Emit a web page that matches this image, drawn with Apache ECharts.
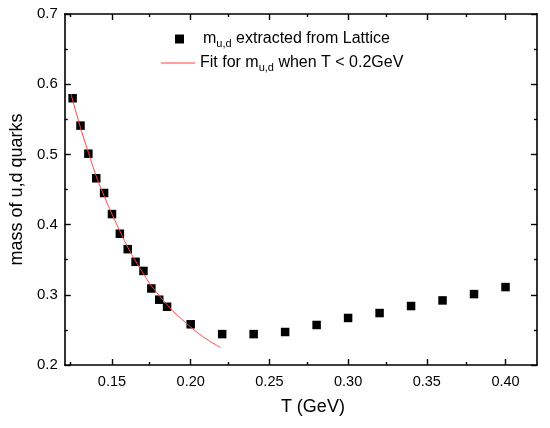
<!DOCTYPE html>
<html>
<head>
<meta charset="utf-8">
<script src="https://cdn.jsdelivr.net/npm/echarts@6/dist/echarts.min.js"></script>
<style>
html,body{margin:0;padding:0;background:#fff;}
#main{width:550px;height:428px;}
</style>
</head>
<body>
<div id="main"></div>
<script>
const T_lattice = [0.125,0.130,0.135,0.140,0.145,0.150,0.155,0.160,0.165,0.170,0.175,0.180,0.185,0.200,0.220,0.240,0.260,0.280,0.300,0.320,0.340,0.360,0.380,0.400];
const m_lattice = [0.580,0.541,0.501,0.466,0.445,0.415,0.387,0.365,0.347,0.334,0.309,0.293,0.283,0.258,0.244,0.244,0.247,0.257,0.267,0.274,0.284,0.292,0.301,0.311];
const T_fit = [0.124,0.130,0.135,0.140,0.145,0.150,0.155,0.160,0.165,0.170,0.175,0.180,0.185,0.190,0.195,0.200,0.205,0.210,0.215,0.219];
const m_fit = [0.586,0.538,0.503,0.469,0.441,0.415,0.391,0.368,0.348,0.330,0.313,0.299,0.286,0.274,0.264,0.254,0.245,0.237,0.230,0.225];
const xMajorTicks = [0.15,0.20,0.25,0.30,0.35,0.40];
const xMinorTicks = [0.125,0.175,0.225,0.275,0.325,0.375];
const xName = 'T (GeV)';
const yName = 'mass of u,d quarks';
const latticeName = 'm_ud extracted from Lattice';
const fitName = 'Fit for m_ud when T < 0.2GeV';

const FONT = '"Liberation Sans", Arial, sans-serif';
const chart = echarts.init(document.getElementById('main'), null, {renderer: 'canvas'});
const lineColor = '#000';
const fitColor = '#ff4545';
const gridBox = {left: 62, top: 14, right: 13, bottom: 63, containLabel: false};

function xAx(gridIndex, position, ticks, len, showLine, showLabel, extra) {
  return Object.assign({
    type: 'value', gridIndex, position, min: 0.12, max: 0.42,
    axisLine: {show: showLine, onZero: false, lineStyle: {color: lineColor, width: 1.6}},
    axisTick: {show: true, inside: true, length: len, customValues: ticks, lineStyle: {color: lineColor, width: 1.4}},
    axisLabel: {show: showLabel, customValues: ticks, formatter: v => v.toFixed(2), color: '#000', fontSize: 14.5, fontFamily: FONT, margin: 9},
    splitLine: {show: false}
  }, extra || {});
}
function yAx(gridIndex, position, showLabel, show, extra) {
  return Object.assign({
    type: 'value', gridIndex, position, min: 0.2, max: 0.7, interval: 0.1, show,
    axisLine: {show: true, onZero: false, lineStyle: {color: lineColor, width: 1.6}},
    axisTick: {show: true, inside: true, length: 6, lineStyle: {color: lineColor, width: 1.4}},
    minorTick: {show: true, splitNumber: 2, length: 3, lineStyle: {color: lineColor, width: 1.4}},
    axisLabel: {show: showLabel, formatter: v => v.toFixed(1), color: '#000', fontSize: 15, fontFamily: FONT, margin: 7},
    splitLine: {show: false}, minorSplitLine: {show: false}
  }, extra || {});
}

function richFmt(name) {
  if (name === latticeName) return '{a|m}{s|u,d}{a| extracted from Lattice}';
  return '{a|Fit for m}{s|u,d}{a| when T < 0.2GeV}';
}
const richStyles = {
  a: {fontSize: 16, fontFamily: FONT, color: '#000', lineHeight: 20},
  s: {fontSize: 11, fontFamily: FONT, color: '#000', verticalAlign: 'bottom', lineHeight: 20}
};

chart.setOption({
  animation: false,
  backgroundColor: '#fff',
  grid: [Object.assign({}, gridBox), Object.assign({}, gridBox)],
  xAxis: [
    xAx(0, 'bottom', xMajorTicks, 6, true, true, {
      name: xName, nameLocation: 'middle', nameGap: 33,
      nameTextStyle: {fontSize: 18, fontFamily: FONT, color: '#000', padding: [0,0,0,24]}
    }),
    xAx(0, 'top', xMajorTicks, 6, true, false),
    xAx(1, 'bottom', xMinorTicks, 3, false, false),
    xAx(1, 'top', xMinorTicks, 3, false, false)
  ],
  yAxis: [
    yAx(0, 'left', true, true, {
      name: yName, nameLocation: 'middle', nameGap: 32,
      nameTextStyle: {fontSize: 18, fontFamily: FONT, color: '#000'}
    }),
    yAx(0, 'right', false, true),
    yAx(1, 'left', false, false)
  ],
  legend: [
    {
      data: [latticeName], left: 175, top: 31, padding: 0, itemWidth: 9, itemHeight: 9,
      icon: 'rect', formatter: richFmt,
      itemStyle: {color: '#000', opacity: 1},
      textStyle: {rich: richStyles, padding: [0,0,0,14]}
    },
    {
      data: [{name: fitName, icon: 'rect'}], left: 161, top: 55, padding: 0, itemWidth: 34, itemHeight: 1,
      formatter: richFmt,
      itemStyle: {color: fitColor, opacity: 1},
      textStyle: {rich: richStyles}
    }
  ],
  series: [
    {
      name: latticeName, type: 'scatter', xAxisIndex: 0, yAxisIndex: 0,
      symbol: 'rect', symbolSize: 8.5,
      itemStyle: {color: '#000', opacity: 1},
      data: T_lattice.map((t, i) => [t, m_lattice[i]]),
      z: 2
    },
    {
      name: fitName, type: 'line', xAxisIndex: 0, yAxisIndex: 0,
      showSymbol: false, symbol: 'none', smooth: true,
      lineStyle: {color: fitColor, width: 1},
      itemStyle: {color: fitColor},
      data: T_fit.map((t, i) => [t, m_fit[i]]),
      z: 3
    }
  ]
});
</script>
</body>
</html>
